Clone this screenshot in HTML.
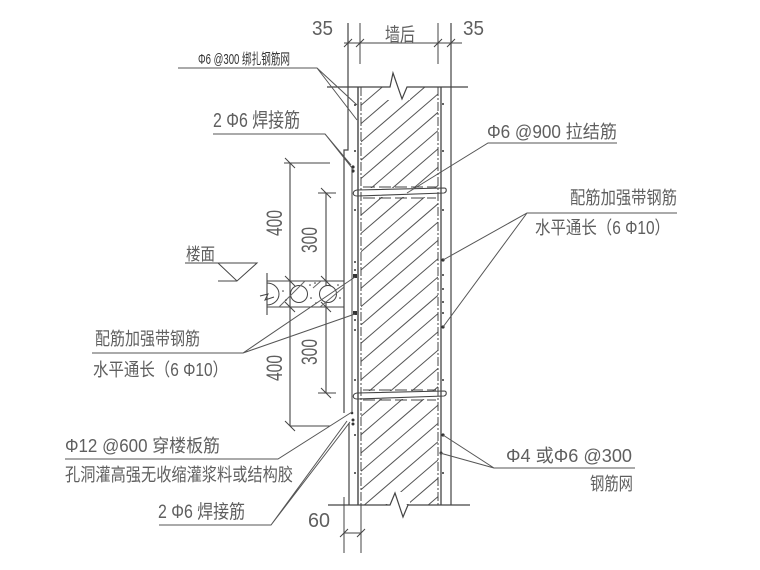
<!DOCTYPE html>
<html><head><meta charset="utf-8"><style>
html,body{margin:0;padding:0;background:#fff}
svg{display:block}
text{font-family:"Liberation Sans","Noto Sans CJK SC",sans-serif;fill:#5f5f5f}
</style></head><body>
<svg width="760" height="570" viewBox="0 0 760 570" xmlns="http://www.w3.org/2000/svg">
<defs>
<clipPath id="c"><rect x="361" y="87" width="77" height="418"/></clipPath>
</defs>
<rect width="760" height="570" fill="#fff"/>
<!-- hatch -->
<g clip-path="url(#c)" stroke="#555" stroke-width="1" fill="none">
<path d="M361 105.3l77 -66.2M361 123.6l77 -66.2M361 141.9l77 -66.2M361 160.2l77 -66.2M361 178.5l77 -66.2M361 196.8l77 -66.2M361 215.1l77 -66.2M361 233.4l77 -66.2M361 251.7l77 -66.2M361 270l77 -66.2M361 288.3l77 -66.2M361 306.6l77 -66.2M361 324.9l77 -66.2M361 343.2l77 -66.2M361 361.5l77 -66.2M361 379.8l77 -66.2M361 398.1l77 -66.2M361 416.4l77 -66.2M361 434.7l77 -66.2M361 453l77 -66.2M361 471.3l77 -66.2M361 489.6l77 -66.2M361 507.9l77 -66.2M361 526.2l77 -66.2M361 544.5l77 -66.2M361 562.8l77 -66.2"/>
</g>
<rect x="360" y="188" width="79" height="9" fill="#fff"/>
<rect x="360" y="391" width="79" height="8" fill="#fff"/>
<rect x="385" y="86" width="25" height="14" fill="#fff"/>
<rect x="385" y="492" width="25" height="12" fill="#fff"/>
<g fill="none" stroke="#444" stroke-width="1">
<!-- wall and dim lines -->
<path d="M348 23V150H344V413" stroke-width="1.2"/>
<path d="M349 423V505" stroke-width="1.2"/>
<path d="M352 166V413"/>
<path d="M358 87V505" stroke-width="1.4"/>
<path d="M361 87V505" stroke-dasharray="9 2 2 2"/>
<path d="M438 87V505" stroke-dasharray="9 2 2 2"/>
<path d="M441 87V505" stroke-width="1.3"/>
<path d="M451 23V505" stroke-width="1.2"/>
<path d="M360 23V64M438 23V64"/>
<path d="M344 43H462" stroke-width="1.1"/>
<path d="M344 47L352 39M356 47L364 39M434 47L442 39M447 47L455 39"/>
<path d="M327 87H390L393 73L402 99L407 87H468" stroke-width="1.2"/>
<path d="M328 505H390L395 493L403 517L408 505H470" stroke-width="1.2"/>
<path d="M344 497V553M361 505V553M344 533H361"/>
<path d="M340 537L348 529M357 537L365 529"/>
<!-- ties -->
<path d="M357 190C352 191 352 196 357 196L444 193C447 192 447 188 444 188L357 190Z" stroke-width="1.1"/>
<path d="M357 393C352 394 352 399 357 399L444 396C447 395 447 391 444 391L357 393Z" stroke-width="1.1"/>
<path d="M363 187H436M363 198H436" stroke-dasharray="12 4"/>
<path d="M363 390H436M363 400H436" stroke-dasharray="12 4"/>
<!-- dimensions -->
<path d="M290 163V426M284 163H330M290 426H330M326 193V393M318 193H336M318 393H336" stroke-width="1.1"/>
<path d="M285 158L295 168M285 421L295 431M321 188L331 198M321 388L331 398M285 276L295 286M285 302L295 312M321 276L331 286M321 302L331 312"/>
<!-- slab -->
<path d="M267 273V315M267 281H344M267 307H344" stroke-width="1.1"/>
<path d="M260 296L268 294L265 300L274 297" />
<path d="M267 283A12 11 0 0 1 267 305" />
<circle cx="299" cy="294" r="8.5" fill="#fff"/><circle cx="328" cy="294" r="8.5" fill="#fff"/>
<path d="M279 307L305 281M313 288L321 281M320 307L344 287" stroke="#666"/>
<!-- floor mark -->
<path d="M185 263H257L237 281L218 263M218 281H237"/>
</g>
<!-- dots -->
<g fill="#333">
<circle cx="355" cy="105" r="1"/><circle cx="355" cy="151" r="1"/><circle cx="353" cy="167" r="1.6"/><circle cx="353" cy="171" r="1.6"/><circle cx="355" cy="210" r="1"/><circle cx="355" cy="262" r="1"/><circle cx="355" cy="270" r="1"/><rect x="353" y="274" width="4" height="4"/><rect x="353" y="311" width="4" height="4"/><circle cx="355" cy="320" r="1"/><circle cx="355" cy="330" r="1"/><circle cx="355" cy="380" r="1"/><circle cx="352" cy="413" r="1.3"/><circle cx="353" cy="420" r="1.5"/><circle cx="353" cy="424" r="1.5"/><circle cx="355" cy="435" r="1"/><circle cx="355" cy="473" r="1"/>
<circle cx="443" cy="104" r="1"/><circle cx="443" cy="151" r="1"/><circle cx="443" cy="210" r="1"/><circle cx="443" cy="260" r="1.6"/><circle cx="443" cy="275" r="1"/><circle cx="443" cy="289" r="1"/><circle cx="443" cy="302" r="1"/><circle cx="443" cy="313" r="1"/><circle cx="443" cy="327" r="1.6"/><circle cx="443" cy="380" r="1"/><circle cx="443" cy="435" r="1.6"/><circle cx="441" cy="453" r="1.5"/><circle cx="443" cy="473" r="1"/>
<circle cx="283" cy="291" r=".8"/><circle cx="310" cy="285" r=".8"/><circle cx="316" cy="303" r=".8"/><circle cx="340" cy="298" r=".8"/><circle cx="315" cy="283" r=".8"/><circle cx="286" cy="300" r=".8"/><circle cx="338" cy="285" r=".8"/><circle cx="311" cy="298" r=".8"/>
</g>
<!-- leaders -->
<g fill="none" stroke="#555" stroke-width="1">
<path d="M178 68H317L357 105M317 68L357 120" />
<path d="M213 134H325L352 168M325 134L351 165"/>
<path d="M617 143H488L407 193"/>
<path d="M677 213H527L443 260M527 213L443 327"/>
<path d="M92 353H243L355 277M243 353L355 314"/>
<path d="M65 459H278L352 412"/>
<path d="M159 525H271L350 422M271 525L347 421"/>
<path d="M635 468H494L443 435M494 468L440 453"/>
</g>
<!-- labels -->
<g>
<text x="312" y="35" font-size="20" textLength="21" lengthAdjust="spacingAndGlyphs">35</text>
<text x="463" y="35" font-size="20" textLength="21" lengthAdjust="spacingAndGlyphs">35</text>
<text x="385" y="41" font-size="19" textLength="30" lengthAdjust="spacingAndGlyphs">墙后</text>
<text x="198" y="64" font-size="15" textLength="92" lengthAdjust="spacingAndGlyphs" style="fill:#333">Φ6 @300 绑扎钢筋网</text>
<text x="213" y="127" font-size="20" textLength="87" lengthAdjust="spacingAndGlyphs">2 Φ6 焊接筋</text>
<text x="487" y="138" font-size="18" textLength="130" lengthAdjust="spacingAndGlyphs">Φ6 @900 拉结筋</text>
<text x="570" y="204" font-size="18" textLength="107" lengthAdjust="spacingAndGlyphs">配筋加强带钢筋</text>
<text x="535" y="234" font-size="18" textLength="135" lengthAdjust="spacingAndGlyphs">水平通长（6 Φ10）</text>
<text x="186" y="260" font-size="17" textLength="29" lengthAdjust="spacingAndGlyphs">楼面</text>
<text x="95" y="345" font-size="18" textLength="105" lengthAdjust="spacingAndGlyphs">配筋加强带钢筋</text>
<text x="93" y="376" font-size="18" textLength="135" lengthAdjust="spacingAndGlyphs">水平通长（6 Φ10）</text>
<text x="65" y="452" font-size="18" textLength="155" lengthAdjust="spacingAndGlyphs">Φ12 @600 穿楼板筋</text>
<text x="65" y="481" font-size="18" textLength="228" lengthAdjust="spacingAndGlyphs">孔洞灌高强无收缩灌浆料或结构胶</text>
<text x="158" y="518" font-size="19" textLength="87" lengthAdjust="spacingAndGlyphs">2 Φ6 焊接筋</text>
<text x="308" y="527" font-size="20" textLength="22" lengthAdjust="spacingAndGlyphs">60</text>
<text x="506" y="462" font-size="18" textLength="126" lengthAdjust="spacingAndGlyphs">Φ4 或Φ6 @300</text>
<text x="590" y="490" font-size="18" textLength="43" lengthAdjust="spacingAndGlyphs">钢筋网</text>
<text transform="translate(282,236) rotate(-90)" font-size="22" textLength="26" lengthAdjust="spacingAndGlyphs">400</text>
<text transform="translate(282,381) rotate(-90)" font-size="22" textLength="26" lengthAdjust="spacingAndGlyphs">400</text>
<text transform="translate(317,253) rotate(-90)" font-size="22" textLength="26" lengthAdjust="spacingAndGlyphs">300</text>
<text transform="translate(317,365) rotate(-90)" font-size="22" textLength="26" lengthAdjust="spacingAndGlyphs">300</text>
</g>
</svg>
</body></html>
